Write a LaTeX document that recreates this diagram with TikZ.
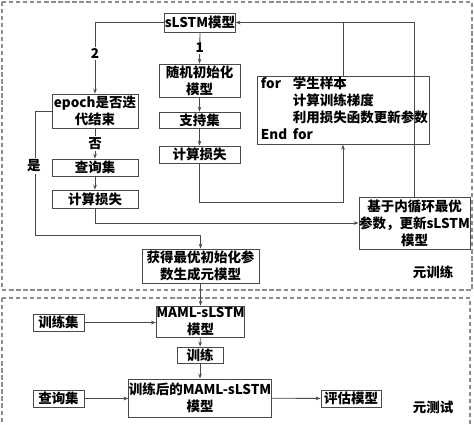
\documentclass[tikz,border=0pt]{standalone}
\usepackage{fontspec}
\setmainfont{Noto Sans CJK SC}
\usetikzlibrary{arrows.meta}
\definecolor{linegray}{HTML}{4A4A4A}
\definecolor{dashgray}{HTML}{8C8C8C}
\tikzset{
	box/.style={draw=linegray, line width=0.6pt, inner sep=0pt, align=center},
	flow/.style={draw=linegray, line width=0.6pt, -{Stealth[length=3.5pt,width=2.6pt]}},
	wire/.style={draw=linegray, line width=0.6pt},
	region/.style={draw=dashgray, line width=0.8pt, dash pattern=on 3pt off 2pt},
	tag/.style={fill=white, inner sep=1pt}
}
\begin{document}
\begin{tikzpicture}[x=0.025cm,y=-0.025cm,font=\fontsize{9.6}{12}\selectfont\bfseries]
\useasboundingbox (0,0) rectangle (474,424);
% regions
\draw[region] (2,2) rectangle (472,290);
\draw[region] (2,298) rectangle (470,426);
\node (metatrain) at (433,272) {元训练};
\node (metatest) at (433,407) {元测试};

% meta-training
\node[box, minimum width=1.65cm, minimum height=0.475cm] (slstm) at (200,22.5) {sLSTM模型};
\node[box, minimum width=2.025cm, minimum height=0.825cm] (init) at (199.5,80.5) {随机初始化\\模型};
\node[box, minimum width=2.025cm, minimum height=0.4cm] (support) at (199.5,120) {支持集};
\node[box, minimum width=2.025cm, minimum height=0.425cm] (lossR) at (199.5,154.5) {计算损失};
\node[box, minimum width=2.15cm, minimum height=0.85cm] (epoch) at (95,111) {epoch是否迭\\代结束};
\node[box, minimum width=2.15cm, minimum height=0.425cm] (query) at (95,167.5) {查询集};
\node[box, minimum width=2.15cm, minimum height=0.45cm] (lossL) at (95,199) {计算损失};
\node[box, minimum width=4.3cm, minimum height=1.625cm, align=left] (loop) at (343,110.5) {%
	\begin{tabular}{@{\hspace{2pt}}l@{\hspace{4pt}}l@{}}
	for & 学生样本\\ & 计算训练梯度\\ & 利用损失函数更新参数\\ End & for
	\end{tabular}};
\node[box, minimum width=2.775cm, minimum height=1.3cm] (update) at (414.5,223) {基于内循环最优\\参数，更新sLSTM\\模型};
\node[box, minimum width=2.925cm, minimum height=0.85cm] (optimal) at (200.5,266) {获得最优初始化参\\数生成元模型};

\coordinate (c1) at (343,202);
\coordinate (c2) at (35,235);

\draw[flow] (slstm.south) -- (init.north) node[midway, tag] (one) {1};
\draw[flow] (init) -- (support);
\draw[flow] (support) -- (lossR);
\draw[flow] (lossR.south) |- (c1) -- (loop.south);
\draw[wire] (loop.north) -- (loop.north |- slstm.east);
\draw[flow] (update.north) |- (slstm.east);
\draw[flow] (slstm.west) -| (epoch.north) node[pos=0.72, tag] (two) {2};
\draw[flow] (epoch) -- (query) node[midway, tag] (no) {否};
\draw[flow] (query) -- (lossL);
\draw[flow] (lossL.south) |- (update.west);
\draw[flow] (epoch.west) -| (c2) -| (optimal.north);
\node[tag] (yes) at (34,166) {是};

% meta-testing
\node[box, minimum width=1.975cm, minimum height=0.775cm] (maml) at (200.5,321.5) {MAML-sLSTM\\模型};
\node[box, minimum width=1.275cm, minimum height=0.425cm] (trainset) at (58.5,322.5) {训练集};
\node[box, minimum width=1.15cm, minimum height=0.4cm] (train) at (200,355) {训练};
\node[box, minimum width=3.4cm, minimum height=0.95cm] (trained) at (200,398) {训练后的MAML-sLSTM\\模型};
\node[box, minimum width=1.275cm, minimum height=0.425cm] (queryset) at (58.5,398.5) {查询集};
\node[box, minimum width=1.5cm, minimum height=0.425cm] (evaluate) at (351,398.5) {评估模型};

\draw[flow] (optimal) -- (maml);
\draw[flow] (trainset) -- (trainset -| maml.west);
\draw[flow] (maml) -- (train);
\draw[flow] (train) -- (trained);
\draw[flow] (queryset) -- (queryset -| trained.west);
\draw[flow] (trained) -- (evaluate);
\end{tikzpicture}
\end{document}
